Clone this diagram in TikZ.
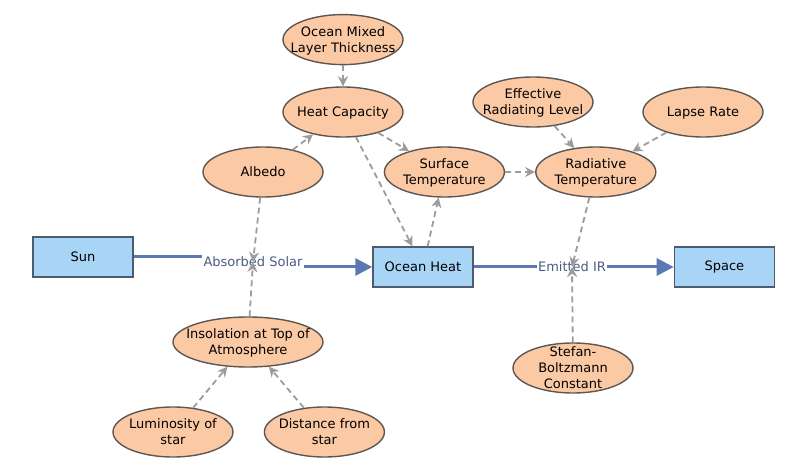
\documentclass[tikz,border=0pt]{standalone}
\usepackage{fontspec}
\setmainfont{DejaVu Sans}
\usepackage{xcolor}
\usetikzlibrary{shapes,arrows.meta,positioning}

\definecolor{peach}{HTML}{FCC9A5}
\definecolor{skyblue}{HTML}{A8D4F6}
\definecolor{flowblue}{HTML}{5A78B2}
\definecolor{linkgray}{HTML}{9C9C9C}
\definecolor{rimbrown}{HTML}{5E5650}
\definecolor{rimblue}{HTML}{4C5C6E}
\definecolor{labelblue}{HTML}{4A5C84}

% text of an ellipse, kept out of the node size
\newcommand{\vtext}[1]{\makebox[0pt]{\raisebox{-4.5pt}[0pt][0pt]{\begin{tabular}{@{}c@{}}#1\end{tabular}}}}

\begin{document}
\begin{tikzpicture}[
    x=1pt, y=-1pt,
    font=\fontsize{13}{16}\selectfont,
    var/.style={ellipse, draw=rimbrown, line width=1.4pt, fill=peach, minimum width=120pt, minimum height=50pt, inner sep=0pt},
    stock/.style={rectangle, draw=rimblue, line width=1.4pt, fill=skyblue, minimum width=100pt, minimum height=40pt, inner sep=0pt},
    flowlabel/.style={text=labelblue, inner sep=1pt},
    flow/.style={line width=3pt, draw=flowblue},
    link/.style={-{Stealth[length=10pt,width=10pt]}, dash pattern=on 6pt off 4pt, line width=1.8pt, draw=linkgray}
]
\useasboundingbox (0,0) rectangle (800,470);

\node[stock] (sun) at (83,257) {Sun};
\node[stock] (ocean) at (423,267) {Ocean Heat};
\node[stock, right=200pt of ocean] (space) {Space};

\node[flowlabel] (absorbed) at (253,262) {Absorbed Solar};
\node[flowlabel] (emitted) at (572,267) {Emitted IR};

\node[var] (heatcap) at (343,112) {\vtext{Heat Capacity}};
\node[var, above=21pt of heatcap] (mixed) {\vtext{Ocean Mixed\\Layer Thickness}};
\node[var] (albedo) at (263,172) {\vtext{Albedo}};
\node[var, right=60pt of albedo] (surftemp) {\vtext{Surface\\Temperature}};
\node[var, right=30pt of surftemp] (radtemp) {\vtext{Radiative\\Temperature}};
\node[var] (efflevel) at (533,102) {\vtext{Effective\\Radiating Level}};
\node[var] (lapse) at (703,112) {\vtext{Lapse Rate}};
\node[var, minimum width=150pt] (insol) at (248,342) {\vtext{Insolation at Top of\\Atmosphere}};
\node[var] (lum) at (173,432) {\vtext{Luminosity of\\star}};
\node[var, right=30pt of lum] (dist) {\vtext{Distance from\\star}};
\node[var] (stefan) at (573,368) {\vtext{Stefan-\\Boltzmann\\Constant}};

\draw[flow] (sun.east) -- (sun.east -| absorbed.west);
\draw[flow, -{Triangle[length=17pt,width=17pt]}] (ocean.west -| absorbed.east) -- (ocean.west);
\draw[flow] (ocean.east) -- (emitted.west);
\draw[flow, -{Triangle[length=17pt,width=17pt]}] (emitted.east) -- (space.west);

\draw[link] (mixed) -- (heatcap);
\draw[link] (albedo) -- (heatcap);
\draw[link] (heatcap) -- (surftemp);
\draw[link] (heatcap) -- (ocean);
\draw[link] (ocean) -- (surftemp);
\draw[link] (surftemp) -- (radtemp);
\draw[link] (efflevel) -- (radtemp);
\draw[link] (lapse) -- (radtemp);
\draw[link] (albedo) -- (absorbed.center);
\draw[link] (insol) -- (absorbed.center);
\draw[link] (radtemp) -- (emitted.center);
\draw[link] (stefan) -- (emitted.center);
\draw[link] (lum) -- (insol);
\draw[link] (dist) -- (insol);

\end{tikzpicture}
\end{document}
